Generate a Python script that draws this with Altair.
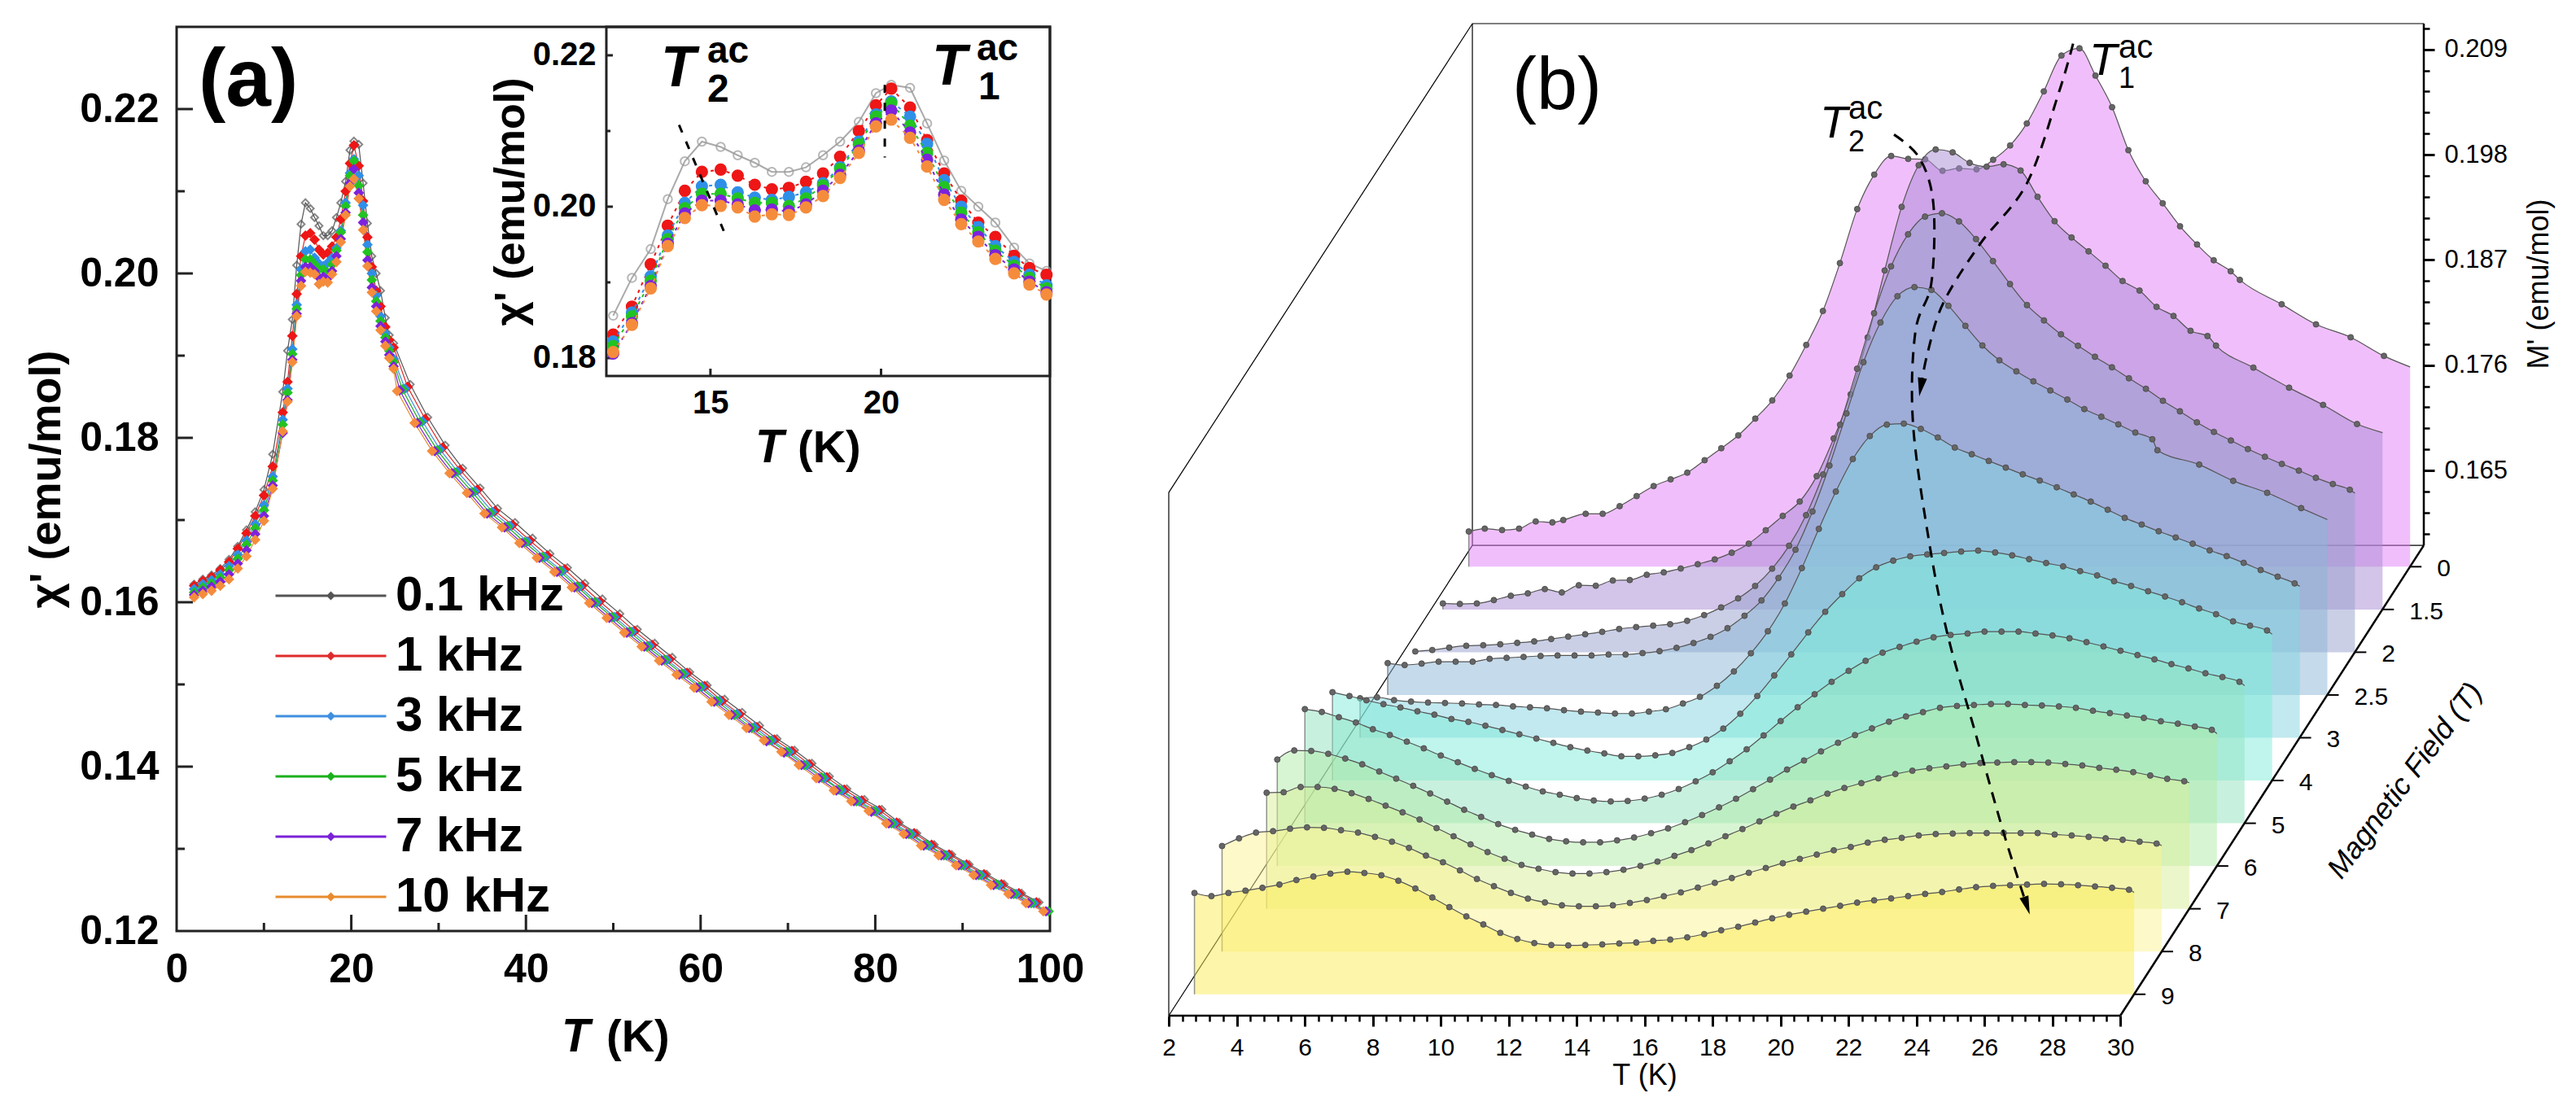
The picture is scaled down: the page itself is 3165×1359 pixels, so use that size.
import altair as alt
import pandas as pd

W, H = 3145, 1340
FONT = "Liberation Sans"

# ---------- panel (a): chi' against T for six frequencies ----------
NAMES = ["0.1 kHz", "1 kHz", "3 kHz", "5 kHz", "7 kHz", "10 kHz"]
LINE_COLORS = ["#555555", "#e02b2b", "#3f8fe0", "#1db01d", "#7a22d8", "#e88b2e"]
POINT_COLORS = ["#555555", "#ee1616", "#2f8fe8", "#22c322", "#7d22dd", "#f58c3c"]

T_LOW = [2, 3, 4, 5, 6, 7, 8, 9, 10, 11]
T_MID = [12.15, 12.7, 13.25, 13.75, 14.25, 14.75, 15.3, 15.8, 16.3, 16.8, 17.3, 17.8, 18.3,
         18.8, 19.35, 19.85, 20.3, 20.85, 21.35, 21.85, 22.35, 22.85, 23.35, 23.9, 24.35, 24.85]
T_HIGH = [26, 28, 30, 32, 34, 36, 38, 40, 42, 44, 46, 48, 50, 52, 54, 56, 58, 60, 62, 64, 66, 68,
          70, 72, 74, 76, 78, 80, 82, 84, 86, 88, 90, 92, 94, 96, 98, 100]
T_HIGH_SHIFT = [0.75, 0.45, 0.15, -0.15, -0.45, -0.75]

LOW_01 = [.1622, .1628, .1633, .1641, .1652, .1668, .1688, .171, .1737, .178]
LOW_1 = [.162, .1626, .1631, .1639, .1649, .1665, .1684, .1705, .173, .1765]
LOW_3 = [.1616, .1622, .1627, .1634, .1644, .1658, .1675, .1695, .1718, .1753]
LOW_5 = [.1612, .1618, .1623, .163, .1639, .1653, .167, .169, .1712, .1748]
LOW_7 = [.1609, .1614, .1619, .1625, .1634, .1647, .1663, .1683, .1705, .1742]
LOW_10 = [.1606, .161, .1614, .162, .1628, .1641, .1656, .1676, .1699, .1738]

MID_01 = [.1856, .1906, .1944, .201, .206, .2086, .2079, .2068, .2058, .2046, .2046, .2052, .2068,
          .2086, .2112, .215, .2161, .2157, .211, .2061, .2021, .2, .1979, .1946, .1925, .1915]
MID_1 = [.1831, .1868, .1924, .1975, .2021, .2046, .2049, .2041, .2029, .2023, .2025, .2033, .2044,
         .2066, .21, .2134, .2156, .2131, .2088, .2044, .2008, .1979, .196, .1935, .1919, .191]
MID_3 = [.1822, .186, .1908, .1962, .2005, .2027, .2029, .2019, .2012, .2009, .2013, .2019, .2031,
         .2052, .2086, .2122, .2139, .2119, .2083, .2035, .2, .1973, .1948, .1927, .191, .1896]
MID_5 = [.1816, .1855, .1902, .1957, .1998, .2017, .2017, .2011, .2005, .2005, .2001, .2011, .2028,
         .205, .2082, .2119, .2137, .2107, .2071, .2026, .1992, .1966, .1942, .1922, .1906, .1892]
MID_7 = [.1806, .1846, .1895, .1951, .1991, .2008, .2008, .2003, .1995, .1996, .1994, .2003, .2021,
         .2042, .2074, .211, .2127, .2098, .2062, .2016, .1983, .196, .1936, .1917, .1901, .1887]
MID_10 = [.1808, .1844, .1892, .1948, .1985, .2002, .2001, .1999, .1987, .199, .1989, .1999, .2014,
          .2038, .2071, .2106, .2115, .2091, .2053, .2009, .1977, .1954, .1931, .1912, .1897, .1884]

HIGH_01 = [.1865, .1825, .1791, .1763, .1739, .1714, .1697, .1678, .1659, .1642, .1623, .1604, .1586,
           .1567, .155, .1533, .1515, .1499, .1482, .1466, .145, .1434, .142, .1404, .1388, .1373,
           .136, .1348, .1332, .1319, .1305, .1293, .1281, .1269, .1257, .1246, .1235, .1225]
HIGH_1 = [.1862, .1823, .1788, .1761, .1737, .1711, .1694, .1675, .1657, .164, .162, .1601, .1583,
          .1565, .1548, .1531, .1514, .1498, .148, .1464, .1448, .1433, .1419, .1403, .1387, .1372,
          .1359, .1347, .1332, .1319, .1305, .1293, .1281, .1269, .1257, .1246, .1235, .1225]
HIGH_3 = [.186, .182, .1786, .1759, .1735, .171, .1693, .1674, .1655, .1638, .1619, .16, .1582,
          .1564, .1547, .153, .1513, .1497, .148, .1464, .1448, .1432, .1418, .1402, .1386, .1371,
          .1358, .1346, .1331, .1318, .1304, .1292, .128, .1268, .1256, .1245, .1234, .1224]
HIGH_5 = [.1859, .1819, .1785, .1758, .1734, .1709, .1692, .1673, .1655, .1638, .1619, .16, .1582,
          .1564, .1546, .153, .1513, .1497, .148, .1463, .1447, .1432, .1418, .1402, .1387, .1372,
          .1358, .1346, .1331, .1318, .1305, .1292, .128, .1268, .1257, .1245, .1234, .1224]
HIGH_7 = [.1858, .1818, .1784, .1757, .1733, .1708, .1691, .1672, .1654, .1637, .1618, .1599, .1581,
          .1563, .1546, .1529, .1512, .1496, .1479, .1463, .1447, .1431, .1417, .1402, .1386, .1371,
          .1358, .1345, .1331, .1318, .1304, .1292, .128, .1268, .1256, .1245, .1234, .1224]
HIGH_10 = [.1857, .1818, .1784, .1757, .1733, .1708, .1691, .1672, .1654, .1637, .1618, .1599, .1581,
           .1563, .1546, .1529, .1512, .1496, .1479, .1463, .1447, .1432, .1418, .1402, .1386, .1371,
           .1358, .1346, .1331, .1318, .1304, .1292, .128, .1268, .1256, .1245, .1234, .1224]

LOWS = [LOW_01, LOW_1, LOW_3, LOW_5, LOW_7, LOW_10]
MIDS = [MID_01, MID_1, MID_3, MID_5, MID_7, MID_10]
HIGHS = [HIGH_01, HIGH_1, HIGH_3, HIGH_5, HIGH_7, HIGH_10]

A_X_MAJOR = [0, 20, 40, 60, 80, 100]
A_X_MINOR = [10, 30, 50, 70, 90]
A_Y_MAJOR = [.12, .14, .16, .18, .20, .22]
A_Y_MINOR = [.13, .15, .17, .19, .21]
INSET_X_MAJOR = [15, 20]
INSET_Y_MAJOR = [.18, .20, .22]
INSET_Y_MINOR = [.19, .21]
INSET_DASH_T2 = ([14.08, 15.39], [.2108, .1968])
INSET_DASH_T1 = ([20.11, 20.11], [.2161, .2065])

# ---------- panel (b): M' (in 10^-3 emu/mol) against T for eleven fields ----------
T_B = [2.35, 2.85, 3.35, 3.85, 4.35, 4.85, 5.35, 5.85, 6.35, 6.85, 7.35, 7.85, 8.35, 8.85, 9.35, 9.85,
       10.35, 10.85, 11.35, 11.85, 12.35, 12.85, 13.35, 13.85, 14.35, 14.85, 15.35, 15.85, 16.35,
       16.85, 17.35, 17.85, 18.35, 18.85, 19.35, 19.85, 20.35, 20.85, 21.35, 21.85, 22.35, 22.85,
       23.35, 23.85, 24.35, 24.85, 25.35, 25.85, 26.35, 26.85, 27.35, 27.85, 28.35, 28.85, 29.35,
       29.85, 30]

M_0T = [160.85, 161.15, 161.0, 161.15, 161.9, 161.8, 162.05, 162.7, 162.7, 163.5, 164.55, 165.6, 166.3,
        167.0, 168.3, 169.55, 170.9, 172.65, 174.55, 177.15, 180.35, 183.9, 188.9, 194.55, 198.15,
        200.1, 199.8, 199.75, 198.55, 198.8, 198.7, 199.7, 201.2, 203.5, 206.85, 210.6, 211.35, 208.5,
        205.2, 200.7, 197.45, 195.15, 192.75, 190.85, 189.2, 188.05, 187.15, 184.6, 182.5, 181.15,
        179.2, 178.05]
T_0T = [2.3, 2.77, 3.28, 3.78, 4.27, 4.76, 5.08, 5.74, 6.24, 6.74, 7.24, 7.74, 8.24, 8.73, 9.24, 9.73,
        10.23, 10.73, 11.23, 11.74, 12.23, 12.72, 13.22, 13.73, 14.23, 14.73, 15.23, 15.73, 16.24,
        16.73, 17.24, 17.73, 18.23, 18.72, 19.22, 19.74, 20.27, 20.74, 21.23, 21.71, 22.22, 22.72,
        23.23, 23.73, 24.22, 24.72, 24.99, 26.22, 27.23, 28.25, 29.23, 30]
M_15T = [157.8, 157.75, 157.8, 158.15, 158.6, 158.85, 159.3, 158.95, 159.7, 159.65, 160.2, 160.25, 160.8,
         161.05, 161.45, 161.9, 162.4, 163.1, 164.05, 165.45, 166.95, 168.45, 171.1, 175.05, 179.65,
         185.6, 192.6, 199.25, 203.6, 205.25, 204.95, 203.85, 203.45, 203.7, 203.05, 200.3, 197.75,
         196.05, 194.6, 193.1, 191.5, 190.5, 188.8, 187.85, 186.3, 185.75, 184.75, 182.45, 180.35,
         178.55, 176.55, 175.65]
T_15T = T_B[:46] + [25.1, 26.2, 27.25, 28.25, 29.25, 30]
M_2T = [157.25, 157.4, 157.65, 157.85, 157.9, 158.0, 158.15, 158.3, 158.55, 158.8, 159.05, 159.3, 159.6,
        159.8, 159.95, 160.1, 160.45, 161.05, 161.85, 162.8, 164.1, 165.9, 168.3, 171.5, 175.75, 180.95,
        186.8, 192.6, 197.5, 200.85, 202.7, 203.05, 202.2, 200.35, 198.05, 195.65, 193.45, 191.85, 190.4,
        189.2, 188.05, 186.95, 185.8, 184.7, 183.45, 182.35, 181.2, 180.2, 179.3, 178.4, 177.6, 176.85,
        176.15, 175.4, 174.75, 174.15, 173.8]
M_25T = [160.5, 160.3, 160.45, 160.65, 160.65, 160.65, 160.95, 161.05, 161.15, 161.25, 161.3, 161.3, 161.3,
         161.4, 161.4, 161.55, 161.75, 162.1, 162.6, 163.25, 164.15, 165.45, 167.05, 169.4, 172.35, 176.35,
         181.15, 186.6, 191.95, 196.1, 198.85, 199.8, 199.5, 197.85, 195.75, 193.7, 192.15, 191.0, 189.95,
         189.0, 188.05, 187.05, 186.25, 185.45, 184.6, 183.9, 182.75, 181.25, 179.55, 178.3, 176.7, 175.5]
T_25T = T_B[:46] + [25.0, 26.23, 27.23, 28.23, 29.23, 30]
M_3T = [161.3, 161.4, 161.1, 160.95, 160.85, 160.8, 160.75, 160.65, 160.6, 160.45, 160.35, 160.25, 160.05,
        159.9, 159.8, 159.7, 159.7, 159.9, 160.15, 160.75, 161.45, 162.6, 164.1, 166.0, 168.3, 171.2, 174.9,
        179.0, 182.9, 186.3, 188.7, 189.9, 190.0, 189.45, 188.55, 187.5, 186.8, 186.1, 185.4, 184.7, 184.05,
        183.35, 182.6, 181.85, 181.0, 180.15, 179.45, 178.75, 178.1, 177.45, 176.75, 176.15, 175.45, 174.7,
        174.0, 173.3, 173.0]
M_4T = [166.4, 166.0, 165.55, 165.15, 164.8, 164.4, 164.05, 163.6, 163.3, 162.9, 162.45, 162.0, 161.55,
        161.1, 160.65, 160.3, 160.0, 159.7, 159.7, 159.8, 160.05, 160.65, 161.45, 162.6, 164.15, 166.0,
        168.15, 170.35, 172.65, 174.8, 176.65, 178.3, 179.45, 180.15, 180.6, 180.8, 180.95, 181.1, 181.2,
        181.0, 180.7, 180.3, 179.9, 179.55, 179.05, 178.6, 178.0, 177.5, 176.95, 176.4, 175.8, 175.15,
        174.55, 173.8, 173.35, 172.85, 172.45]
M_5T = [169.1, 168.8, 168.25, 167.7, 167.0, 166.4, 165.7, 165.0, 164.25, 163.55, 162.85, 162.2, 161.6,
        161.0, 160.5, 160.15, 159.8, 159.55, 159.45, 159.5, 159.75, 160.15, 160.75, 161.55, 162.5, 163.65,
        164.9, 166.35, 167.85, 169.3, 170.65, 171.95, 173.1, 174.15, 175.0, 175.6, 176.15, 176.6, 176.85,
        177.0, 177.2, 177.2, 177.2, 177.0, 176.8, 176.5, 176.1, 175.65, 175.2, 174.75, 174.3, 173.8,
        173.35, 172.85, 172.45, 171.95, 171.55]
M_6T = [168.3, 169.25, 169.2, 168.9, 168.4, 167.8, 167.05, 166.3, 165.55, 164.75, 163.9, 163.05, 162.3,
        161.55, 160.95, 160.45, 160.0, 159.75, 159.65, 159.65, 159.85, 160.15, 160.6, 161.1, 161.75, 162.5,
        163.3, 164.2, 165.2, 166.2, 167.25, 168.2, 169.15, 170.05, 170.85, 171.55, 172.25, 172.8, 173.25,
        173.7, 173.9, 174.0, 174.1, 174.1, 174.0, 173.95, 173.85, 173.7, 173.4, 173.15, 172.9, 172.65,
        172.3, 172.05, 171.75, 171.4, 171.0]
M_7T = [169.3, 169.35, 169.9, 169.9, 169.7, 169.25, 168.65, 167.95, 167.25, 166.5, 165.6, 164.75, 163.9,
        163.1, 162.4, 161.75, 161.35, 161.0, 160.85, 160.85, 161.0, 161.25, 161.65, 162.1, 162.7, 163.3,
        164.0, 164.75, 165.5, 166.3, 167.1, 167.85, 168.5, 169.2, 169.8, 170.3, 170.8, 171.25, 171.6,
        171.85, 172.05, 172.25, 172.4, 172.45, 172.5, 172.5, 172.45, 172.3, 172.15, 171.9, 171.7, 171.45,
        171.1, 170.75, 170.5, 170.35]
M_8T = [168.2, 169.0, 169.6, 169.75, 170.0, 170.15, 170.1, 169.85, 169.6, 169.15, 168.65, 168.0, 167.2,
        166.5, 165.65, 164.75, 164.0, 163.3, 162.7, 162.3, 162.0, 161.9, 161.9, 162.0, 162.25, 162.55,
        162.95, 163.35, 163.85, 164.35, 164.85, 165.4, 165.9, 166.4, 166.85, 167.3, 167.75, 168.1, 168.55,
        168.85, 169.05, 169.3, 169.45, 169.5, 169.55, 169.55, 169.55, 169.55, 169.55, 169.4, 169.3, 169.15,
        169.0, 168.85, 168.65, 168.45, 168.25]
M_9T = [167.76, 167.43, 167.76, 168.0, 168.3, 168.64, 169.11, 169.48, 169.78, 169.98, 169.85, 169.61, 169.04,
        168.23, 167.29, 166.28, 165.31, 164.47, 163.59, 162.95, 162.52, 162.32, 162.28, 162.32, 162.38, 162.48,
        162.58, 162.75, 162.89, 163.12, 163.46, 163.86, 164.23, 164.67, 165.11, 165.48, 165.81, 166.12, 166.42,
        166.75, 166.99, 167.19, 167.43, 167.66, 167.86, 168.13, 168.37, 168.5, 168.57, 168.64, 168.71, 168.67,
        168.57, 168.44, 168.3, 168.1, 167.83]

FIELD_LABELS = ["9", "8", "7", "6", "5", "4", "3", "2.5", "2", "1.5", "0"]
FIELD_SERIES = [M_9T, M_8T, M_7T, M_6T, M_5T, M_4T, M_3T, M_25T, M_2T, M_15T, M_0T]
FIELD_T = [T_B, T_B, T_B[1:], T_B, T_B, T_B, T_B, T_25T, T_B, T_15T, T_0T]
FIELD_COLORS = ["#fbeb55", "#fbf393", "#d7ed97", "#b1eba7", "#91e1bf", "#7febd9",
                "#83d3df", "#8bb5d5", "#959fcd", "#a789d3", "#e27ff7"]

B_X_MAJOR = [2, 4, 6, 8, 10, 12, 14, 16, 18, 20, 22, 24, 26, 28, 30]
B_X_MINOR = [2.4, 2.8, 3.2, 3.6, 4.4, 4.8, 5.2, 5.6, 6.4, 6.8, 7.2, 7.6, 8.4, 8.8, 9.2, 9.6, 10.4, 10.8, 11.2,
             11.6, 12.4, 12.8, 13.2, 13.6, 14.4, 14.8, 15.2, 15.6, 16.4, 16.8, 17.2, 17.6, 18.4, 18.8, 19.2,
             19.6, 20.4, 20.8, 21.2, 21.6, 22.4, 22.8, 23.2, 23.6, 24.4, 24.8, 25.2, 25.6, 26.4, 26.8, 27.2,
             27.6, 28.4, 28.8, 29.2, 29.6]
B_Y_MAJOR = [.165, .176, .187, .198, .209]
B_Y_MINOR = [.1584, .1606, .1628, .1672, .1694, .1716, .1738, .1782, .1804, .1826, .1848, .1892, .1914,
             .1936, .1958, .2002, .2024, .2046, .2068, .2112]

# depth of the waterfall box, in axis units
DEPTH_T = 8.934
DEPTH_M = 0.04916
FLOOR_M = 0.15717
BOX_T = [2, 10.934, 38.93, 30]
BOX_BOTTOM, BOX_TOP, BOX_LEFT_TOP = 0.10801, 0.2117, 0.1627
ARROW_T1 = ([28.61, 28.2, 27.25, 25.88, 24.79, 24.33, 24.13], [.2096, .2046, .195, .1887, .1825, .1773, .1737])
ARROW_T2 = ([23.34, 24.1, 24.5, 24.44, 23.97, 23.9, 24.38, 24.92, 25.74, 26.56, 27.25],
            [.2001, .1976, .1928, .1846, .1795, .1699, .1574, .1478, .1375, .1272, .1195])
HEAD_PATH = "M-.5,-1L.5,-1L0,1Z"

# ---------- scales ----------
SX_A = alt.Scale(domain=[0, 100], range=[209, 1282], zero=False, nice=False)
SY_A = alt.Scale(domain=[.12, .23], range=[1136, 25], zero=False, nice=False)
SX_I = alt.Scale(domain=[11.95, 24.95], range=[737, 1282], zero=False, nice=False)
SY_I = alt.Scale(domain=[.17763, .22376], range=[454, 25], zero=False, nice=False)
SX_B = alt.Scale(domain=[2, 38.93], range=[1428, 2970], zero=False, nice=False)
SY_B = alt.Scale(domain=[BOX_BOTTOM, BOX_TOP], range=[1240, 21], zero=False, nice=False)

ONE = pd.DataFrame({"a": [0]})
layers = []


def X(sc, axis=None, f="x"):
    return alt.X(f, type="quantitative", scale=sc, axis=axis)


def Y(sc, axis=None, f="y"):
    return alt.Y(f, type="quantitative", scale=sc, axis=axis)


def txt(s, px, py, size, weight="normal", style="normal", align="left", color="black", angle=None):
    kw = dict(font=FONT, fontSize=size, fontWeight=weight, fontStyle=style, align=align,
              baseline="alphabetic", color=color)
    if angle is not None:
        kw["angle"] = angle
    return alt.Chart(ONE).mark_text(**kw).encode(
        x=alt.value(px - 8), y=alt.value(py - 8), text=alt.value(s))


def rules(rows, sx, sy, width, color="black"):
    df = pd.DataFrame(rows, columns=["x", "x2", "y", "y2"])
    return alt.Chart(df).mark_rule(color=color, strokeWidth=width).encode(
        x=X(sx), x2=alt.X2("x2"), y=Y(sy), y2=alt.Y2("y2"))


# ---------- panel (a) ----------
ax_kw = dict(ticks=False, domain=False, grid=False, labelFont=FONT, labelFontWeight="bold",
             labelColor="black", labelOverlap=False, labelFlush=False, titleFont=FONT, titleColor="black",
             titleFontWeight="bold")
frame_a = pd.DataFrame({"x": [0], "x2": [100], "y": [.12], "y2": [.23]})
layers.append(alt.Chart(frame_a).mark_rect(filled=False, stroke="#222222", strokeWidth=3).encode(
    x=X(SX_A, alt.Axis(orient="bottom", values=A_X_MAJOR, title=None, format="d", labelFontSize=50, labelPadding=22,
                       offset=-(H - 1136), **ax_kw)),
    x2=alt.X2("x2"),
    y=Y(SY_A, alt.Axis(orient="left", values=A_Y_MAJOR, format=".2f", labelFontSize=50, labelPadding=22, offset=-209,
                       title="χ' (emu/mol)", titleFontSize=54, titleX=-160, titleBaseline="middle", **ax_kw)),
    y2=alt.Y2("y2")))

t_rows = [(v, v, .12, .12 + .00198) for v in A_X_MAJOR[1:-1]] + [(v, v, .12, .12 + .00099) for v in A_X_MINOR]
t_rows += [(0, 1.86, v, v) for v in A_Y_MAJOR[1:]] + [(0, .93, v, v) for v in A_Y_MINOR]
layers.append(rules(t_rows, SX_A, SY_A, 3, "#222222"))

rows = []
for i, name in enumerate(NAMES):
    for t, c in zip(T_LOW + T_MID, LOWS[i] + MIDS[i]):
        rows.append((name, i, t, c))
    for t, c in zip(T_HIGH, HIGHS[i]):
        if t + T_HIGH_SHIFT[i] <= 100:
            rows.append((name, i, t + T_HIGH_SHIFT[i], c))
main_df = pd.DataFrame(rows, columns=["series", "i", "x", "y"])

layers.append(alt.Chart(main_df).mark_line(strokeWidth=1.2).encode(
    x=X(SX_A), y=Y(SY_A),
    color=alt.Color("series:N", scale=alt.Scale(domain=NAMES, range=LINE_COLORS),
                    legend=alt.Legend(title=None, orient="none", legendX=329, legendY=687,
                                      symbolType="M-1,0L1,0M-.05,0L0,-.05L.05,0L0,.05Z", symbolSize=18496,
                                      symbolStrokeWidth=3, labelFont=FONT, labelFontSize=60,
                                      labelFontWeight="bold", labelColor="black", labelOffset=10,
                                      clipHeight=74, rowPadding=0, padding=0, labelLimit=500))))
for i, name in enumerate(NAMES):
    d = main_df[main_df.i == i]
    if i == 0:
        m = alt.Chart(d).mark_point(shape="diamond", filled=False, stroke="#555555", strokeWidth=2, size=80)
    else:
        m = alt.Chart(d).mark_point(shape="diamond", filled=True, color=POINT_COLORS[i], opacity=1, size=170)
    layers.append(m.encode(x=X(SX_A), y=Y(SY_A)))

# inset
frame_i = pd.DataFrame({"x": [11.95], "x2": [24.95], "y": [.17763], "y2": [.22376]})
layers.append(alt.Chart(frame_i).mark_rect(filled=False, stroke="#222222", strokeWidth=3).encode(
    x=X(SX_I, alt.Axis(orient="bottom", values=INSET_X_MAJOR, title=None, format="d", labelFontSize=40, labelPadding=13,
                       offset=-(H - 454), **ax_kw)),
    x2=alt.X2("x2"),
    y=Y(SY_I, alt.Axis(orient="left", values=INSET_Y_MAJOR, format=".2f", labelFontSize=40, labelPadding=13, offset=-737,
                       title="χ' (emu/mol)", titleFontSize=52, titleX=-118, titleBaseline="middle", **ax_kw)),
    y2=alt.Y2("y2")))
t_rows = [(v, v, .17763, .17763 + .00097) for v in INSET_X_MAJOR]
t_rows += [(11.95, 12.14, v, v) for v in INSET_Y_MAJOR] + [(11.95, 12.07, v, v) for v in INSET_Y_MINOR]
layers.append(rules(t_rows, SX_I, SY_I, 3, "#222222"))
for i, name in enumerate(NAMES):
    d = pd.DataFrame({"x": T_MID, "y": MIDS[i]})
    if i == 0:
        layers.append(alt.Chart(d).mark_line(color="#aaaaaa", strokeWidth=2).encode(x=X(SX_I), y=Y(SY_I)))
        layers.append(alt.Chart(d).mark_point(shape="circle", filled=False, stroke="#999999", strokeWidth=2,
                                              size=110).encode(x=X(SX_I), y=Y(SY_I)))
    else:
        layers.append(alt.Chart(d).mark_line(color=POINT_COLORS[i], strokeWidth=2, strokeDash=[4, 6]).encode(
            x=X(SX_I), y=Y(SY_I)))
        layers.append(alt.Chart(d).mark_point(shape="circle", filled=True, color=POINT_COLORS[i], opacity=1,
                                              size=230).encode(x=X(SX_I), y=Y(SY_I)))
for xs, ys in (INSET_DASH_T2, INSET_DASH_T1):
    layers.append(alt.Chart(pd.DataFrame({"x": xs, "y": ys})).mark_line(
        color="black", strokeWidth=3, strokeDash=[10, 12]).encode(x=X(SX_I), y=Y(SY_I)))

layers += [
    txt("(a)", 244, 130, 100, "bold"),
    txt("T", 690, 1292, 57, "bold", "italic"), txt("(K)", 745, 1292, 56, "bold"),
    txt("T", 928, 568, 57, "bold", "italic"), txt("(K)", 980, 568, 56, "bold"),
    txt("T", 812, 106, 70, "bold", "italic"), txt("ac", 869, 77, 46, "bold"), txt("2", 869, 125, 48, "bold"),
    txt("T", 1145, 104, 70, "bold", "italic"), txt("ac", 1200, 74, 46, "bold"), txt("1", 1202, 122, 48, "bold"),
]

# ---------- panel (b) ----------
box_rows_thin = [
    (BOX_T[0], BOX_T[1], BOX_BOTTOM, FLOOR_M),
    (BOX_T[1], BOX_T[2], FLOOR_M, FLOOR_M),
    (BOX_T[1], BOX_T[1], FLOOR_M, BOX_TOP),
    (BOX_T[1], BOX_T[2], BOX_TOP, BOX_TOP),
    (BOX_T[0], BOX_T[1], BOX_LEFT_TOP, BOX_TOP),
    (BOX_T[0], BOX_T[0], BOX_BOTTOM, BOX_LEFT_TOP),
]
bx_kw = dict(grid=False, domain=False, labelFont=FONT, labelColor="black", labelOverlap=False, labelFlush=False,
             tickColor="black")
df_thin = pd.DataFrame(box_rows_thin, columns=["x", "x2", "y", "y2"])
layers.append(alt.Chart(df_thin).mark_rule(color="black", strokeWidth=1.2).encode(
    x=X(SX_B, alt.Axis(orient="bottom", values=B_X_MAJOR, format="d", tickSize=13, tickWidth=3, labelFontSize=30,
                       labelPadding=11, offset=-(H - 1240), title=None, **bx_kw)),
    x2=alt.X2("x2"),
    y=Y(SY_B, alt.Axis(orient="right", values=B_Y_MAJOR, format=".3f", tickSize=13, tickWidth=3, labelFontSize=31,
                       labelPadding=12, offset=-(W - 2970), title=None, **bx_kw)),
    y2=alt.Y2("y2")))
layers.append(alt.Chart(df_thin.iloc[:1]).mark_rule(opacity=0).encode(
    x=X(SX_B, alt.Axis(orient="bottom", values=B_X_MINOR, labels=False, tickSize=7, tickWidth=2.5, title=None,
                       offset=-(H - 1240), grid=False, domain=False, tickColor="black")),
    y=Y(SY_B, alt.Axis(orient="right", values=B_Y_MINOR, labels=False, tickSize=7, tickWidth=2.5, title=None,
                       offset=-(W - 2970), grid=False, domain=False, tickColor="black"))))

for k in reversed(range(len(FIELD_LABELS))):
    d = (k + 0.5) / 11
    shift_t, shift_m = DEPTH_T * d, DEPTH_M * (1 - d)
    base = FLOOR_M - shift_m
    ms = FIELD_SERIES[k]
    ts = FIELD_T[k]
    n = min(len(ms), len(ts))
    df = pd.DataFrame({"x": [t + shift_t for t in ts[:n]],
                       "y": [m / 1000 - shift_m for m in ms[:n]],
                       "y2": [base] * n})
    layers.append(alt.Chart(df).mark_area(color=FIELD_COLORS[k], opacity=0.5, interpolate="monotone").encode(
        x=X(SX_B), y=Y(SY_B), y2=alt.Y2("y2")))
    layers.append(alt.Chart(df.iloc[:1]).mark_rule(color="#666666", opacity=0.7, strokeWidth=1.5).encode(
        x=X(SX_B), y=Y(SY_B), y2=alt.Y2("y2")))
    layers.append(alt.Chart(df).mark_line(color="#555555", strokeWidth=1.2, interpolate="monotone").encode(
        x=X(SX_B), y=Y(SY_B)))
    layers.append(alt.Chart(df.iloc[:-1]).mark_point(shape="circle", filled=True, color="#666666", opacity=1,
                                                     stroke="#444444", strokeWidth=0.8, size=50).encode(
        x=X(SX_B), y=Y(SY_B)))

axis_rows = [
    (BOX_T[0], BOX_T[3], BOX_BOTTOM, BOX_BOTTOM),
    (BOX_T[3], BOX_T[2], BOX_BOTTOM, FLOOR_M),
    (BOX_T[2], BOX_T[2], FLOOR_M, BOX_TOP),
]
layers.append(rules(axis_rows, SX_B, SY_B, 2.5))

tick_rows, label_rows = [], []
for k, lab in enumerate(FIELD_LABELS):
    d = (k + 0.5) / 11
    end = 30 + DEPTH_T * d
    yb = FLOOR_M - DEPTH_M * (1 - d)
    tick_rows.append((end, end + 0.335, yb, yb))
    label_rows.append((lab, end + 0.79, yb))
layers.append(rules(tick_rows, SX_B, SY_B, 2))
layers.append(alt.Chart(pd.DataFrame(label_rows, columns=["t", "x", "y"])).mark_text(
    font=FONT, fontSize=30, align="left", baseline="middle", dy=3, color="black").encode(
    x=X(SX_B), y=Y(SY_B), text="t:N"))

for xs, ys in (ARROW_T1, ARROW_T2):
    dfa = pd.DataFrame({"x": xs, "y": ys, "o": list(range(len(xs)))})
    layers.append(alt.Chart(dfa).mark_line(color="black", strokeWidth=3, strokeDash=[14, 10],
                                           interpolate="cardinal").encode(
        x=X(SX_B), y=Y(SY_B), order="o:Q"))
for (xs, ys), ang in ((ARROW_T1, 10), (ARROW_T2, 342)):
    dfh = pd.DataFrame({"x": xs[-1:], "y": ys[-1:]})
    layers.append(alt.Chart(dfh).mark_point(shape=HEAD_PATH, filled=True, color="black", opacity=1, size=520,
                                            angle=ang).encode(x=X(SX_B), y=Y(SY_B)))

layers += [
    txt("(b)", 1858, 134, 90),
    txt("T", 2567, 92, 56, style="italic"), txt("ac", 2603, 71, 40), txt("1", 2603, 108, 36),
    txt("T", 2236, 169, 56, style="italic"), txt("ac", 2271, 146, 40), txt("2", 2271, 186, 36),
    txt("Magnetic Field (T)", 2964, 966, 36, style="italic", align="center", angle=307),
    txt("T (K)", 2021, 1333, 36, align="center"),
    txt("M' (emu/mol)", 3131, 349, 36, align="center", angle=270),
]

chart = (
    alt.layer(*layers)
    .resolve_scale(x="independent", y="independent", color="independent")
    .properties(width=W, height=H, padding=0, autosize=alt.AutoSizeParams(type="none"))
    .configure_view(stroke=None)
)
chart.save("out.html", embed_options={"renderer": "svg", "actions": False})
